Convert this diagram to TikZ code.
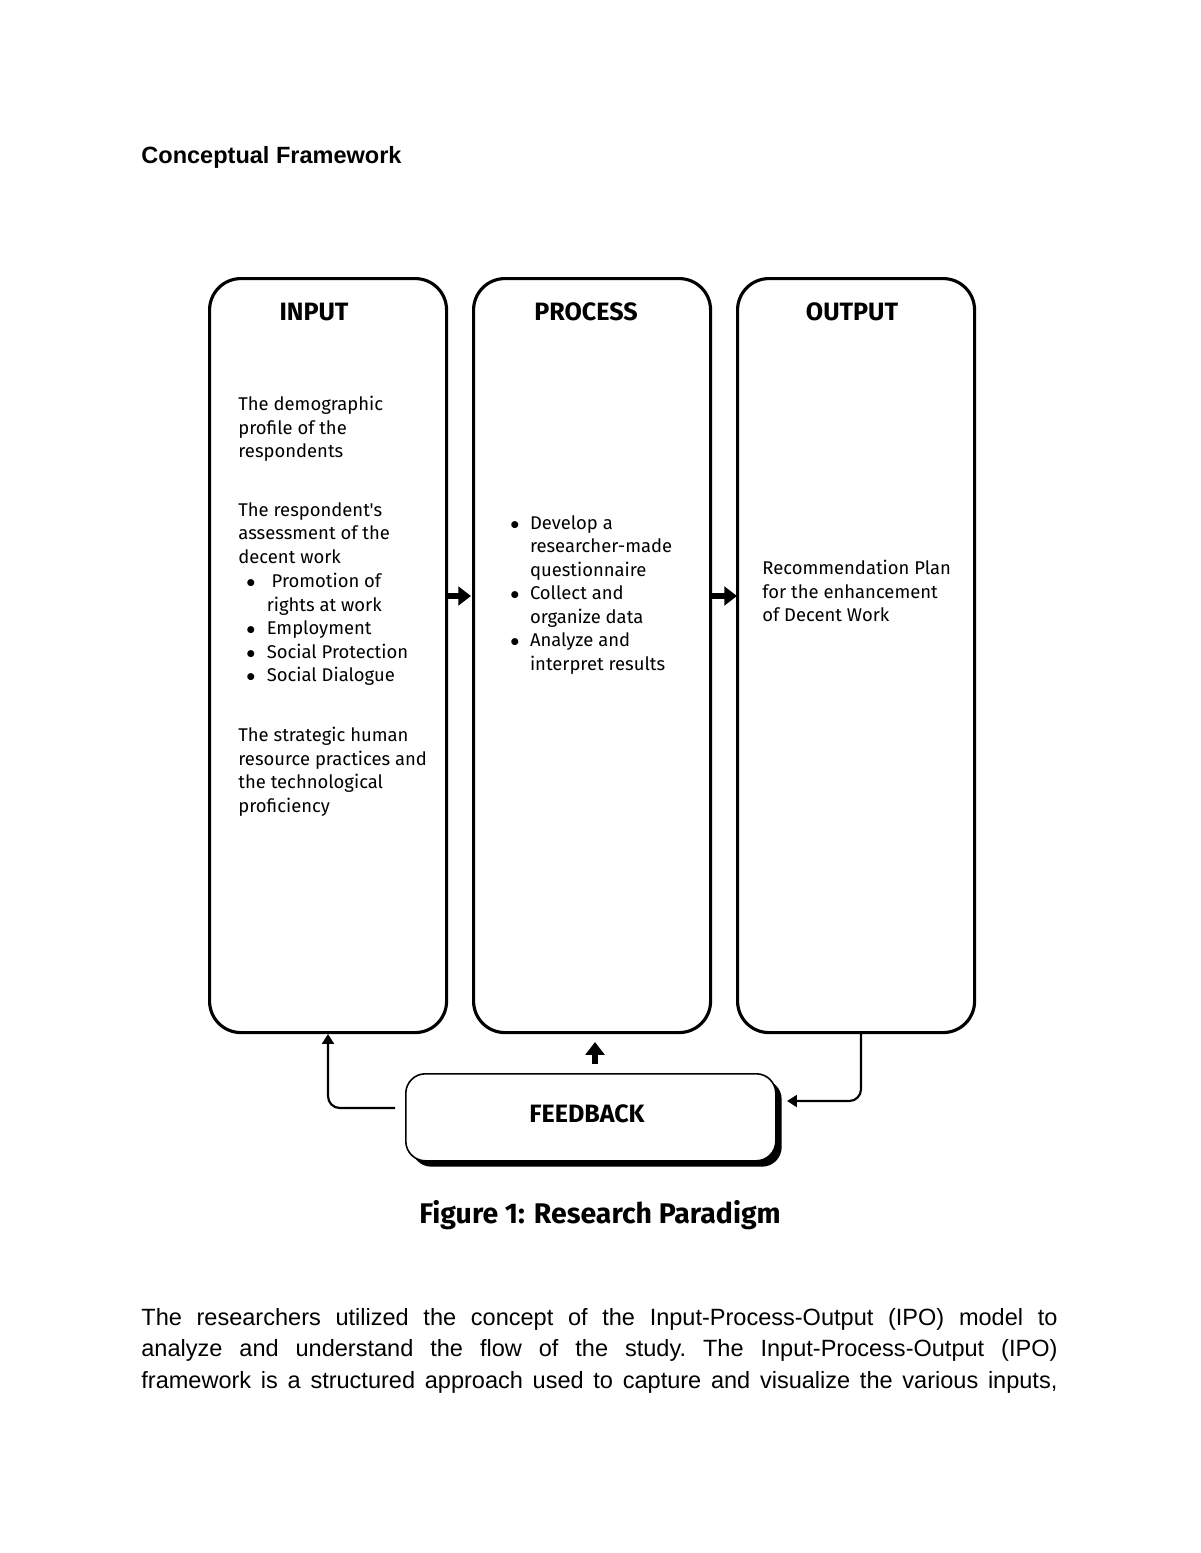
\documentclass[tikz,border=0pt]{standalone}
\usepackage{fontspec}
\setmainfont{Liberation Sans}
\newfontfamily\boxfont{Fira Sans}
\usepackage{tikz}
\usetikzlibrary{arrows.meta,shadows}

\newcommand{\ipobul}[1]{\makebox[#1][l]{$\bullet$}}
\newcommand{\fullline}[1]{\makebox[467.2pt][s]{#1}}

\tikzset{
  ipobox/.style={draw,line width=1.6pt,rounded corners=16pt,minimum width=237*0.51pt,minimum height=754*0.51pt,anchor=north west},
  boxhead/.style={font=\boxfont\bfseries\fontsize{12.8}{15}\selectfont},
  boxtext/.style={font=\boxfont\fontsize{9.4}{12}\selectfont,align=left,anchor=north west,inner sep=0pt},
  fbbox/.style={draw,line width=0.8pt,rounded corners=10pt,minimum width=370*0.51pt,minimum height=87*0.51pt,
    fill=white,drop shadow={shadow xshift=3pt,shadow yshift=-3pt,opacity=1,fill=black}},
  flow/.style={line width=2.6pt,-{Triangle[length=6.5pt,width=9.5pt]}},
  link/.style={line width=1.1pt,rounded corners=6pt,-{Triangle[length=5pt,width=6pt]}}
}

\begin{document}
\begin{tikzpicture}[x=0.51pt,y=-0.51pt]
	\useasboundingbox (0,0) rectangle (1200,1553);
	\node[anchor=base west,inner sep=0pt,font=\bfseries\fontsize{12}{14}\selectfont] (title) at (141,164) {Conceptual Framework};
	% the three IPO columns
	\node[ipobox] (input) at (208,277) {};
	\node[ipobox] (process) at (472,277) {};
	\node[ipobox] (output) at (736,277) {};
	\node[boxhead] at (314,312) {INPUT};
	\node[boxhead] at (586,312) {PROCESS};
	\node[boxhead] at (852,312) {OUTPUT};
	% input texts
	\node[boxtext] (demo) at (238,396) {The demographic\\profile of the\\respondents};
	\node[boxtext] (assess) at (238,502) {The respondent's\\assessment of the\\decent work};
	\node[boxtext] (items) at (246,573) {\ipobul{10.4pt} Promotion of\\\hspace{10.4pt}rights at work\\\ipobul{10.4pt}Employment\\\ipobul{10.4pt}Social Protection\\\ipobul{10.4pt}Social Dialogue};
	\node[boxtext] (shrm) at (238,727) {The strategic human\\resource practices and\\the technological\\proficiency};
	% process texts
	\node[boxtext] (steps) at (510,515) {\ipobul{10pt}Develop a\\\hspace{10pt}researcher-made\\\hspace{10pt}questionnaire\\\ipobul{10pt}Collect and\\\hspace{10pt}organize data\\\ipobul{10pt}Analyze and\\\hspace{10pt}interpret results};
	% output text
	\node[boxtext] (plan) at (762,560) {Recommendation Plan\\for the enhancement\\of Decent Work};
	% feedback
	\node[fbbox,anchor=north west] (feedback) at (405,1073) {};
	\node[boxhead] at (587,1114) {FEEDBACK};
	\coordinate (in1) at (447,596);
	\coordinate (in2) at (471,596);
	\coordinate (pr1) at (712,596);
	\coordinate (pr2) at (737,596);
	\draw[flow] (in1) -- (in2);
	\draw[flow] (pr1) -- (pr2);
	\coordinate (up1) at (595,1064);
	\coordinate (up2) at (595,1042);
	\draw[flow] (up1) -- (up2);
	\coordinate (fbl) at (395,1108);
	\coordinate (inb) at (328,1034);
	\draw[link] (fbl) -| (inb);
	\coordinate (outb) at (861,1033);
	\coordinate (fbr) at (787,1101);
	\draw[link] (outb) |- (fbr);
	% caption and paragraph
	\node[font=\boxfont\bfseries\fontsize{14.5}{17}\selectfont] (caption) at (600,1215) {Figure 1: Research Paradigm};
	\node[anchor=north west,inner sep=0pt,align=left,font=\frenchspacing\fontsize{12}{16}\selectfont] (para) at (141,1308)
	{\fullline{The researchers utilized the concept of the Input-Process-Output (IPO) model to}\\
	 \fullline{analyze and understand the flow of the study. The Input-Process-Output (IPO)}\\
	 \fullline{framework is a structured approach used to capture and visualize the various inputs,}};
\end{tikzpicture}
\end{document}
